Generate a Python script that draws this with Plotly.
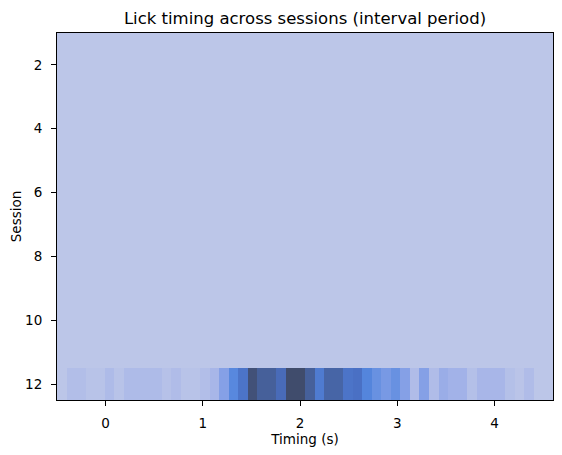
"""
Lick timing heatmap — sessions x time bins, only the last session has licks.
"""
import numpy as np
import plotly.graph_objects as go

SESSIONS = list(range(1, 13))
BIN_EDGES = np.linspace(-0.5, 4.6, 53)  # 52 bins of ~0.1 s
BIN_CENTERS = (BIN_EDGES[:-1] + BIN_EDGES[1:]) / 2

# relative lick density in session 12, one value per time bin
SESSION_12 = [
    0.00, 0.05, 0.05, 0.02, 0.02, 0.07, 0.02, 0.07, 0.07, 0.07,
    0.07, 0.03, 0.06, 0.02, 0.02, 0.05, 0.10, 0.27, 0.44, 0.56,
    0.93, 0.72, 0.72, 0.62, 1.00, 1.00, 0.72, 0.52, 0.68, 0.68,
    0.56, 0.58, 0.46, 0.38, 0.32, 0.38, 0.27, 0.06, 0.27, 0.06,
    0.17, 0.13, 0.13, 0.04, 0.10, 0.10, 0.10, 0.04, 0.01, 0.06,
    0.00, 0.00,
]
EMPTY_ROW = [0.0] * len(SESSION_12)

Z = [EMPTY_ROW for _ in SESSIONS[:-1]] + [SESSION_12]

COLORSCALE = [
    [0.00, "#bcc6e8"],
    [0.10, "#a8b6e8"],
    [0.27, "#85a0e6"],
    [0.45, "#5587de"],
    [0.58, "#4a70c4"],
    [0.72, "#46609a"],
    [1.00, "#404c6c"],
]

FONT = "DejaVu Sans"

# the page body adds an 8px offset, so the figure is a bit smaller than the window
W, H = 554, 447

fig = go.Figure(go.Heatmap(
    z=Z,
    x=BIN_CENTERS,
    y=SESSIONS,
    colorscale=COLORSCALE,
    zmin=0,
    zmax=1,
    showscale=False,
))

axis_common = dict(
    showline=True,
    linecolor="black",
    linewidth=1,
    mirror=True,
    ticks="outside",
    ticklen=5,
    tickcolor="black",
    ticklabelstandoff=6,
    showgrid=False,
    zeroline=False,
    automargin=False,
    tickfont=dict(family=FONT, size=13.5, color="black"),
)

fig.update_layout(
    width=W,
    height=H,
    paper_bgcolor="white",
    plot_bgcolor="#bcc6e8",
    margin=dict(l=49, r=9, t=25, b=55),
    title=dict(
        text="Lick timing across sessions (interval period)",
        x=297 / W,
        xanchor="center",
        y=1 - 10 / H,
        yanchor="middle",
        font=dict(family=FONT, size=16.5, color="black"),
    ),
    xaxis=dict(
        **axis_common,
        range=[-0.5, 4.6],
        tickvals=[0, 1, 2, 3, 4],
        title=dict(text="Timing (s)", font=dict(family=FONT, size=13.5, color="black"), standoff=4),
    ),
    yaxis=dict(
        **axis_common,
        range=[12.5, 1.0],
        tickvals=[2, 4, 6, 8, 10, 12],
        title=dict(text="Session", font=dict(family=FONT, size=13.5, color="black"), standoff=6),
    ),
)

fig.write_html("out.html")
